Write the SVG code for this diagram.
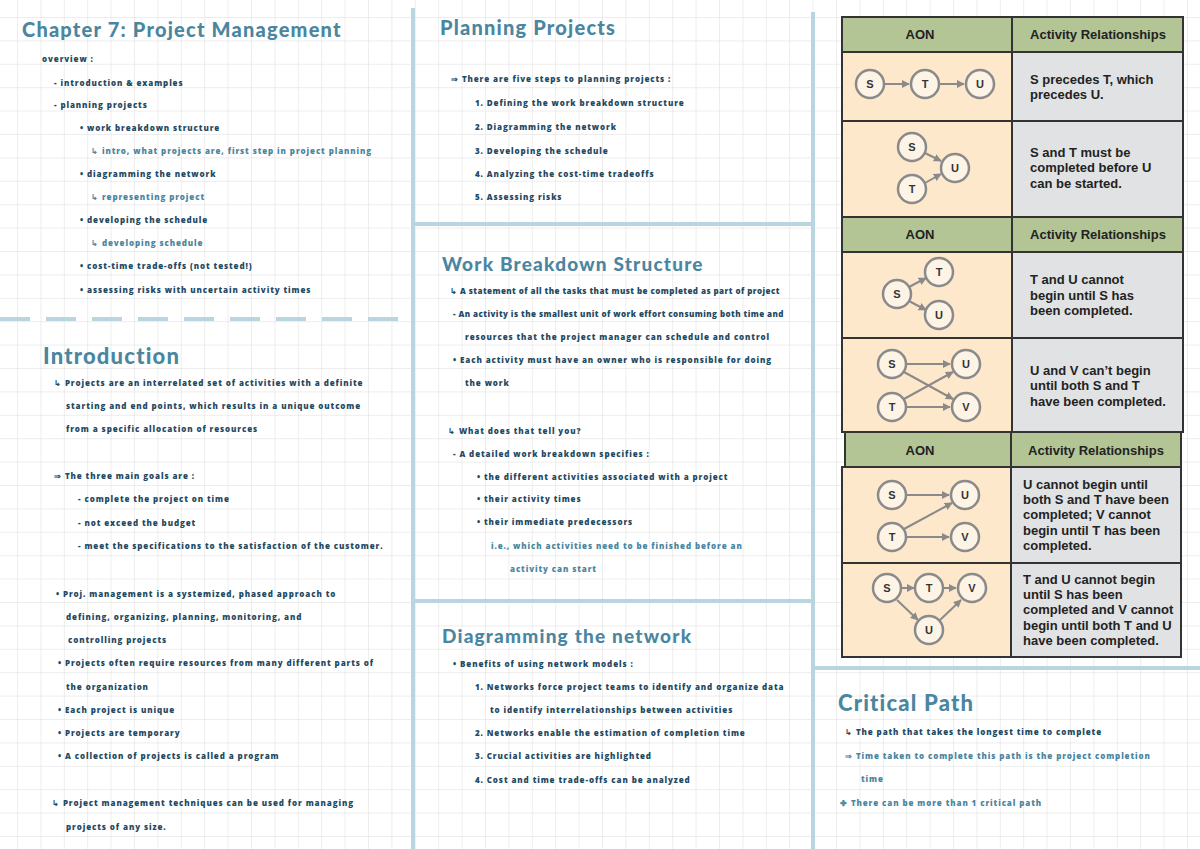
<svg xmlns="http://www.w3.org/2000/svg" width="1200" height="849" viewBox="0 0 1200 849">
<defs>
<pattern id="grid" x="17" y="17" width="23.4" height="23.4" patternUnits="userSpaceOnUse">
<path d="M0 0H23.4M0 0V23.4" fill="none" stroke="#dcdcdc" stroke-width="1"/>
</pattern>
<marker id="ah" viewBox="0 0 10 10" refX="9" refY="5" markerWidth="4" markerHeight="4" orient="auto"><path d="M0 0L10 5L0 10z" fill="#8a8a8a"/></marker>
<style>
.h{font-family:"Lato","Open Sans",sans-serif;font-weight:900;fill:#4a86a0;letter-spacing:1.2px}
.b{font-family:"Open Sans",sans-serif;font-weight:800;font-size:8px;fill:#1f4a63;letter-spacing:0.9px}
.c{font-family:"Open Sans",sans-serif;font-weight:800;font-size:8px;fill:#4a86a0;letter-spacing:0.9px}
.t{letter-spacing:0.45px}
.div{stroke:#b9d5e0;stroke-width:4;fill:none}
.hd{fill:#b3c595;stroke:#333;stroke-width:2}
.ac{fill:#fde8cb;stroke:#333;stroke-width:2}
.rc{fill:#e1e2e4;stroke:#333;stroke-width:2}
.th{font-family:"Liberation Sans",Arial,sans-serif;font-weight:bold;font-size:13px;fill:#222}
.td{font-family:"Liberation Sans",Arial,sans-serif;font-weight:bold;font-size:13px;fill:#222}
.n circle{fill:#fdf4e6;stroke:#8a8a8a;stroke-width:2.5}
.n text{font-family:"Liberation Sans",Arial,sans-serif;font-weight:bold;font-size:11px;fill:#333;text-anchor:middle}
.e{stroke:#8a8a8a;stroke-width:2;fill:none;marker-end:url(#ah)}
</style>
</defs>
<rect width="1200" height="849" fill="#fff"/>
<rect width="1200" height="849" fill="url(#grid)"/>
<g id="dividers">
<line class="div" x1="413" y1="8" x2="413" y2="849"/>
<line class="div" x1="813" y1="12" x2="813" y2="849"/>
<line class="div" x1="413" y1="224" x2="813" y2="224"/>
<line class="div" x1="413" y1="601" x2="813" y2="601"/>
<line class="div" x1="813" y1="668" x2="1200" y2="668"/>
<line class="div" x1="0" y1="319" x2="410" y2="319" stroke-dasharray="30,16"/>
</g>
<g id="left">
<text class="h" x="22" y="37" font-size="20">Chapter 7: Project Management</text>
<text class="b" x="42" y="62">overview :</text>
<text class="b" x="54" y="86">-  introduction &amp; examples</text>
<text class="b" x="54" y="108">-  planning projects</text>
<text class="b" x="80" y="131">•  work breakdown structure</text>
<text class="c" x="91" y="154">↳ intro, what projects are, first step in project planning</text>
<text class="b" x="80" y="177">•  diagramming the network</text>
<text class="c" x="91" y="200">↳ representing project</text>
<text class="b" x="80" y="223">•  developing the schedule</text>
<text class="c" x="91" y="246">↳ developing schedule</text>
<text class="b" x="80" y="269">•  cost-time trade-offs  (not tested!)</text>
<text class="b" x="80" y="293">•  assessing risks with uncertain activity times</text>
<text class="h" x="43" y="364" font-size="22">Introduction</text>
<text class="b" x="54" y="386">↳ Projects are an interrelated set of activities with a definite</text>
<text class="b" x="66" y="409">starting and end points, which results in a unique outcome</text>
<text class="b" x="66" y="432">from a specific allocation of resources</text>
<text class="b" x="54" y="479">⇒ The three main goals are :</text>
<text class="b" x="78" y="502">-  complete the project on time</text>
<text class="b" x="78" y="526">-  not exceed the budget</text>
<text class="b" x="78" y="549">-  meet the specifications to the satisfaction of the customer.</text>
<text class="b" x="56" y="597">•  Proj. management is a systemized, phased approach to</text>
<text class="b" x="66" y="620">defining, organizing, planning, monitoring, and</text>
<text class="b" x="68" y="643">controlling projects</text>
<text class="b" x="58" y="666">•  Projects often require resources from many different parts of</text>
<text class="b" x="66" y="690">the organization</text>
<text class="b" x="58" y="713">•  Each project is unique</text>
<text class="b" x="58" y="736">•  Projects are temporary</text>
<text class="b" x="58" y="759">•  A collection of projects is called a program</text>
<text class="b" x="52" y="806">↳  Project management techniques can be used for managing</text>
<text class="b" x="66" y="830">projects of any size.</text>
</g>
<g id="middle">
<text class="h" x="440" y="35" font-size="20">Planning  Projects</text>
<text class="b" x="451" y="82">⇒ There are five steps to planning projects :</text>
<text class="b" x="475" y="106">1.  Defining the work breakdown structure</text>
<text class="b" x="475" y="130">2.  Diagramming the network</text>
<text class="b" x="475" y="154">3.  Developing the schedule</text>
<text class="b" x="475" y="177">4.  Analyzing the cost-time tradeoffs</text>
<text class="b" x="475" y="200">5.  Assessing risks</text>
<text class="h" x="442" y="271" font-size="19">Work Breakdown Structure</text>
<text class="b t" x="450" y="294">↳  A statement of all the tasks that must be completed as part of project</text>
<text class="b t" x="453" y="317">-  An activity is the smallest unit of work effort consuming both time and</text>
<text class="b" x="465" y="340">resources that the project manager can schedule and control</text>
<text class="b" x="453" y="363">•  Each activity must have an owner who is responsible for doing</text>
<text class="b" x="465" y="386">the work</text>
<text class="b" x="448" y="434">↳  What does that tell you?</text>
<text class="b" x="453" y="457">-  A detailed work breakdown specifies :</text>
<text class="b" x="477" y="480">•  the different activities associated with a project</text>
<text class="b" x="477" y="502">•  their activity times</text>
<text class="b" x="477" y="525">•  their immediate predecessors</text>
<text class="c" x="491" y="549">i.e., which activities need to be finished before an</text>
<text class="c" x="510" y="572">activity can start</text>
<text class="h" x="442" y="643" font-size="19">Diagramming the network</text>
<text class="b" x="453" y="667">•  Benefits of using network models :</text>
<text class="b" x="475" y="690">1.  Networks force project teams to identify and organize  data</text>
<text class="b" x="490" y="713">to identify interrelationships between activities</text>
<text class="b" x="475" y="736">2.  Networks enable the estimation of completion time</text>
<text class="b" x="475" y="759">3.  Crucial activities are highlighted</text>
<text class="b" x="475" y="783">4.  Cost and time trade-offs can be analyzed</text>
</g>
<g id="critical">
<text class="h" x="838" y="711" font-size="22">Critical Path</text>
<text class="b" x="845" y="735">↳  The path that takes the longest time to complete</text>
<text class="c" x="845" y="759">⇒  Time taken to complete this path is the project completion</text>
<text class="c" x="861" y="782">time</text>
<text class="c" x="840" y="806">✤  There can be more than 1 critical path</text>
</g>
<g id="table">
<rect class="hd" x="842" y="17" width="170" height="35"/><rect class="hd" x="1012" y="17" width="171" height="35"/>
<text class="th" x="920" y="39" text-anchor="middle">AON</text><text class="th" x="1098" y="39" text-anchor="middle">Activity Relationships</text>
<rect class="ac" x="842" y="52" width="170" height="69"/><rect class="rc" x="1012" y="52" width="171" height="69"/>
<rect class="ac" x="842" y="121" width="170" height="96"/><rect class="rc" x="1012" y="121" width="171" height="96"/>
<rect class="hd" x="842" y="217" width="170" height="35"/><rect class="hd" x="1012" y="217" width="171" height="35"/>
<text class="th" x="920" y="239" text-anchor="middle">AON</text><text class="th" x="1098" y="239" text-anchor="middle">Activity Relationships</text>
<rect class="ac" x="842" y="252" width="170" height="86"/><rect class="rc" x="1012" y="252" width="171" height="86"/>
<rect class="ac" x="842" y="338" width="170" height="94"/><rect class="rc" x="1012" y="338" width="171" height="94"/>
<rect class="hd" x="845" y="432" width="166" height="35"/><rect class="hd" x="1011" y="432" width="170" height="35"/>
<text class="th" x="920" y="455" text-anchor="middle">AON</text><text class="th" x="1096" y="455" text-anchor="middle">Activity Relationships</text>
<rect class="ac" x="842" y="467" width="169" height="96"/><rect class="rc" x="1011" y="467" width="170" height="96"/>
<rect class="ac" x="842" y="563" width="169" height="94"/><rect class="rc" x="1011" y="563" width="170" height="94"/>
<text class="td" x="1030" y="84">S precedes T, which</text><text class="td" x="1030" y="99">precedes U.</text>
<text class="td" x="1030" y="157">S and T must be</text><text class="td" x="1030" y="172">completed before U</text><text class="td" x="1030" y="188">can be started.</text>
<text class="td" x="1030" y="284">T and U cannot</text><text class="td" x="1030" y="300">begin until S has</text><text class="td" x="1030" y="315">been completed.</text>
<text class="td" x="1030" y="375">U and V can’t begin</text><text class="td" x="1030" y="390">until both S and T</text><text class="td" x="1030" y="406">have been completed.</text>
<text class="td" x="1023" y="489">U cannot begin until</text><text class="td" x="1023" y="504">both S and T have been</text><text class="td" x="1023" y="519">completed; V cannot</text><text class="td" x="1023" y="535">begin until T has been</text><text class="td" x="1023" y="550">completed.</text>
<text class="td" x="1023" y="584">T and U cannot begin</text><text class="td" x="1023" y="599">until S has been</text><text class="td" x="1023" y="614">completed and V cannot</text><text class="td" x="1023" y="630">begin until both T and U</text><text class="td" x="1023" y="645">have been completed.</text>
</g>
<g id="connectors">
<line class="e" x1="885" y1="84" x2="909" y2="84"/><line class="e" x1="940" y1="84" x2="964" y2="84"/>
<line class="e" x1="925" y1="153" x2="941" y2="161"/><line class="e" x1="925" y1="183" x2="941" y2="174"/>
<line class="e" x1="909" y1="287" x2="926" y2="278"/><line class="e" x1="909" y1="301" x2="926" y2="310"/>
<line class="e" x1="907" y1="364" x2="950" y2="364"/><line class="e" x1="907" y1="407" x2="950" y2="407"/>
<line class="e" x1="904" y1="372" x2="953" y2="399"/><line class="e" x1="904" y1="399" x2="953" y2="372"/>
<line class="e" x1="907" y1="495" x2="949" y2="495"/><line class="e" x1="907" y1="537" x2="949" y2="537"/><line class="e" x1="904" y1="529" x2="952" y2="503"/>
<line class="e" x1="902" y1="588" x2="914" y2="588"/><line class="e" x1="944" y1="588" x2="956" y2="588"/>
<line class="e" x1="897" y1="600" x2="918" y2="620"/><line class="e" x1="940" y1="620" x2="961" y2="600"/>
</g>
<g id="n1" class="n"><circle cx="870" cy="84" r="14"/><text x="870" y="88">S</text></g>
<g id="n2" class="n"><circle cx="925" cy="84" r="14"/><text x="925" y="88">T</text></g>
<g id="n3" class="n"><circle cx="980" cy="84" r="14"/><text x="980" y="88">U</text></g>
<g id="n4" class="n"><circle cx="912" cy="147" r="14"/><text x="912" y="151">S</text></g>
<g id="n5" class="n"><circle cx="955" cy="168" r="14"/><text x="955" y="172">U</text></g>
<g id="n6" class="n"><circle cx="912" cy="189" r="14"/><text x="912" y="193">T</text></g>
<g id="n7" class="n"><circle cx="939" cy="272" r="14"/><text x="939" y="276">T</text></g>
<g id="n8" class="n"><circle cx="897" cy="294" r="14"/><text x="897" y="298">S</text></g>
<g id="n9" class="n"><circle cx="939" cy="315" r="14"/><text x="939" y="319">U</text></g>
<g id="n10" class="n"><circle cx="892" cy="364" r="14"/><text x="892" y="368">S</text></g>
<g id="n11" class="n"><circle cx="966" cy="364" r="14"/><text x="966" y="368">U</text></g>
<g id="n12" class="n"><circle cx="892" cy="407" r="14"/><text x="892" y="411">T</text></g>
<g id="n13" class="n"><circle cx="966" cy="407" r="14"/><text x="966" y="411">V</text></g>
<g id="n14" class="n"><circle cx="892" cy="495" r="14"/><text x="892" y="499">S</text></g>
<g id="n15" class="n"><circle cx="965" cy="495" r="14"/><text x="965" y="499">U</text></g>
<g id="n16" class="n"><circle cx="892" cy="537" r="14"/><text x="892" y="541">T</text></g>
<g id="n17" class="n"><circle cx="965" cy="537" r="14"/><text x="965" y="541">V</text></g>
<g id="n18" class="n"><circle cx="887" cy="588" r="14"/><text x="887" y="592">S</text></g>
<g id="n19" class="n"><circle cx="929" cy="588" r="14"/><text x="929" y="592">T</text></g>
<g id="n20" class="n"><circle cx="972" cy="588" r="14"/><text x="972" y="592">V</text></g>
<g id="n21" class="n"><circle cx="929" cy="630" r="14"/><text x="929" y="634">U</text></g>
</svg>
